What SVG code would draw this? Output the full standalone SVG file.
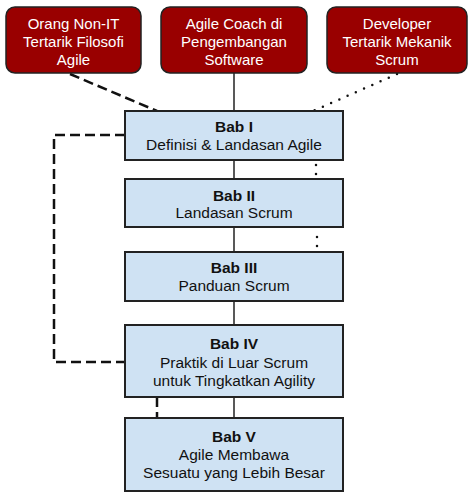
<svg xmlns="http://www.w3.org/2000/svg" width="474" height="500" viewBox="0 0 474 500">
<style>
.top{fill:#990000;stroke:#222;stroke-width:1.5}
.bab{fill:#cfe2f3;stroke:#222;stroke-width:2}
.tw{font-family:"Liberation Sans",Arial,sans-serif;font-size:15px;fill:#fff;text-anchor:middle}
.tb{font-family:"Liberation Sans",Arial,sans-serif;font-size:15.5px;fill:#111;text-anchor:middle}
.b{font-weight:bold}
.solid{stroke:#222;stroke-width:1.5;fill:none}
.dash{stroke:#111;stroke-width:2.5;fill:none;stroke-dasharray:10 5}
.dot{stroke:#111;stroke-width:2.5;fill:none;stroke-dasharray:0 9;stroke-linecap:round}
</style>
<rect width="474" height="500" fill="#fff"/>
<g id="connectors">
<line class="solid" x1="234" y1="73" x2="234" y2="418"/>
<line class="dash" x1="70" y1="74" x2="157" y2="111"/>
<line class="dot" x1="397" y1="74" x2="313" y2="111"/>
<polyline class="dash" points="125,135 54,135 54,362 125,362"/>
<line class="dot" x1="316" y1="165" x2="316" y2="176"/>
<line class="dot" x1="317" y1="237" x2="317" y2="248"/>
<line class="dash" x1="157" y1="397" x2="157" y2="418" stroke-dasharray="5 4 12"/>
</g>
<g id="n1"><rect class="top" x="6" y="7" width="135" height="66" rx="9"/>
<text class="tw" x="73.5" y="29">Orang Non-IT</text><text class="tw" x="73.5" y="47">Tertarik Filosofi</text><text class="tw" x="73.5" y="65">Agile</text></g>
<g id="n2"><rect class="top" x="161" y="7" width="146" height="66" rx="9"/>
<text class="tw" x="234" y="29">Agile Coach di</text><text class="tw" x="234" y="47">Pengembangan</text><text class="tw" x="234" y="65">Software</text></g>
<g id="n3"><rect class="top" x="327" y="7" width="140" height="66" rx="9"/>
<text class="tw" x="397" y="29">Developer</text><text class="tw" x="397" y="47">Tertarik Mekanik</text><text class="tw" x="397" y="65">Scrum</text></g>
<g id="bab1"><rect class="bab" x="125" y="111" width="218" height="49"/>
<text class="tb b" x="234" y="132">Bab I</text><text class="tb" x="234" y="150">Definisi &amp; Landasan Agile</text></g>
<g id="bab2"><rect class="bab" x="125" y="179" width="218" height="48"/>
<text class="tb b" x="234" y="201">Bab II</text><text class="tb" x="234" y="218">Landasan Scrum</text></g>
<g id="bab3"><rect class="bab" x="125" y="252" width="218" height="49"/>
<text class="tb b" x="234" y="273">Bab III</text><text class="tb" x="234" y="291">Panduan Scrum</text></g>
<g id="bab4"><rect class="bab" x="125" y="325" width="218" height="72"/>
<text class="tb b" x="234" y="349">Bab IV</text><text class="tb" x="234" y="368">Praktik di Luar Scrum</text><text class="tb" x="234" y="386">untuk Tingkatkan Agility</text></g>
<g id="bab5"><rect class="bab" x="125" y="418" width="218" height="73"/>
<text class="tb b" x="234" y="442">Bab V</text><text class="tb" x="234" y="460">Agile Membawa</text><text class="tb" x="234" y="478">Sesuatu yang Lebih Besar</text></g>
</svg>
